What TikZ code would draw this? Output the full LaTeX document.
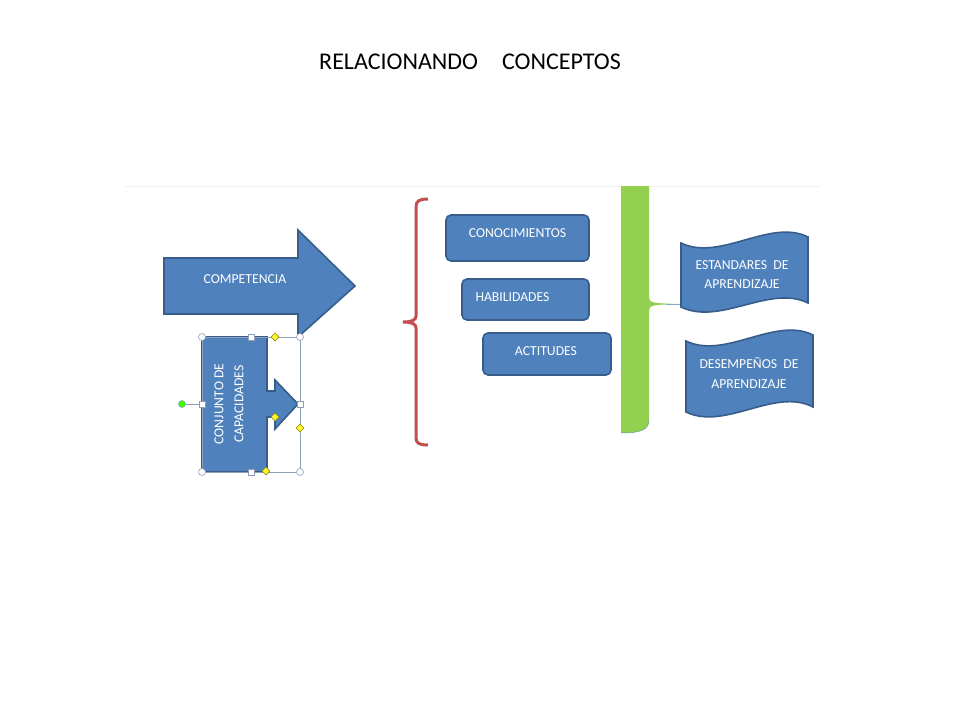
\documentclass[tikz,border=0pt]{standalone}
\usepackage{fontspec}
\setmainfont{Carlito}
\usetikzlibrary{positioning}

\definecolor{boxblue}{HTML}{4F81BD}
\definecolor{boxedge}{HTML}{385D8A}
\definecolor{bracered}{HTML}{C0504D}
\definecolor{bargreen}{HTML}{92D050}
\definecolor{handlegray}{HTML}{8EA0B8}

\begin{document}
\begin{tikzpicture}[x=1pt, y=-1pt,
    every node/.style = { align = center, inner sep = 0pt },
    bluebox/.style = { draw = boxedge, fill = boxblue, line width = 1.6pt, rounded corners = 5pt },
    bluepath/.style = { draw = boxedge, fill = boxblue, line width = 1.6pt, line join = miter },
    lbl/.style = { text = white, font = \fontsize{13.7}{16}\selectfont },
    handle/.style = { draw = handlegray, fill = white, line width = .6pt }]
    \useasboundingbox (0,0) rectangle (960,720);

    % title
    \node[font = \fontsize{24}{28}\selectfont] (title) at (470,62) {RELACIONANDO\hspace{24pt}CONCEPTOS};
    \draw[gray!12, line width = .8pt] (125,186) -- (820,186);

    % competencia
    \draw[bluepath] (164,258) -- (298,258) -- (298,230) -- (355,286) -- (298,337)
      -- (298,314) -- (164,314) -- cycle;
    \node[lbl] (compet) at (245,279) {COMPETENCIA};

    % conjunto de capacidades
    \draw[bluepath] (202,337) -- (267,337) -- (267,391) -- (275,391) -- (275,380)
      -- (298,404) -- (275,429) -- (275,417) -- (267,417) -- (267,472) -- (202,472) -- cycle;
    \node[lbl, rotate = 90, font = \fontsize{13.7}{20}\selectfont] (conj) at (229,404) {CONJUNTO DE\\CAPACIDADES};
    \draw[handlegray, line width = .6pt] (202,337) rectangle (300,472);
    \draw[handlegray, line width = .6pt] (182,404) -- (202,404);
    \foreach \p in {(202,337),(300,337),(202,472),(300,472)}
      \draw[handle] \p circle (3.5pt);
    \foreach \p in {(251,337),(251,472),(202,404),(300,404)}
      \draw[handle] \p ++(-3,-3) rectangle ++(6,6);
    \draw[draw = handlegray, fill = green!70!lime, line width = .6pt] (182,404) circle (3.5pt);
    \foreach \p in {(275,337),(275,417),(300,428),(266,471)}
      \draw[draw = olive, fill = yellow!80, line width = .5pt] \p ++(0,-4) -- ++(4,4) -- ++(-4,4) -- ++(-4,-4) -- cycle;

    % llave roja
    \draw[bracered, line width = 3pt] (428,199) .. controls (419,199) and (416,201) .. (416,207)
      -- (416,316) .. controls (416,320) and (412,322) .. (403,322)
      .. controls (412,322) and (416,324) .. (416,328)
      -- (416,438) .. controls (416,443) and (419,445) .. (428,445);

    % componentes
    \node[bluebox, minimum width = 143, minimum height = 46] (conoc) at (517.5,238) {};
    \node[lbl] at ([yshift = 5pt]conoc.center) {CONOCIMIENTOS};
    \node[bluebox, minimum width = 127, minimum height = 41] (habil) at (525.5,299.5) {};
    \node[lbl] at ([xshift = -13pt, yshift = 2pt]habil.center) {HABILIDADES};
    \node[bluebox, minimum width = 128, minimum height = 42] (actit) at (547,354) {};
    \node[lbl] at ([xshift = -1pt, yshift = 3pt]actit.center) {ACTITUDES};

    % barra verde
    \coordinate (spike) at (678,304);
    \coordinate (estl) at (682,304);
    \fill[bargreen] (621,186) -- (649,186) -- (649,297) .. controls (650,303) .. (spike)
      .. controls (650,305) .. (649,311) -- (649,420) .. controls (649,430) and (640,433) .. (621,433) -- cycle;
    \draw[boxblue, line width = .8pt] (666,304) -- (spike) -- (estl);
    \draw[boxblue!60!bargreen, line width = .5pt] (649,420) .. controls (649,430) and (640,433) .. (621,433);

    % estandares y desempenos
    \draw[bluepath] (681,243) .. controls (720,262) and (770,218) .. (808,237)
      -- (808,303) .. controls (770,284) and (720,326) .. (681,307) -- cycle;
    \node[lbl, font = \fontsize{13.7}{19}\selectfont] (estand) at (742,275) {ESTANDARES\ \ DE\\APRENDIZAJE};
    \draw[bluepath] (686,341) .. controls (725,360) and (775,316) .. (813,335)
      -- (813,407) .. controls (775,387) and (725,431) .. (686,412) -- cycle;
    \node[lbl, font = \fontsize{13.7}{20}\selectfont] (desemp) at (749,373) {DESEMPEÑOS\ \ DE\\APRENDIZAJE};
\end{tikzpicture}
\end{document}
